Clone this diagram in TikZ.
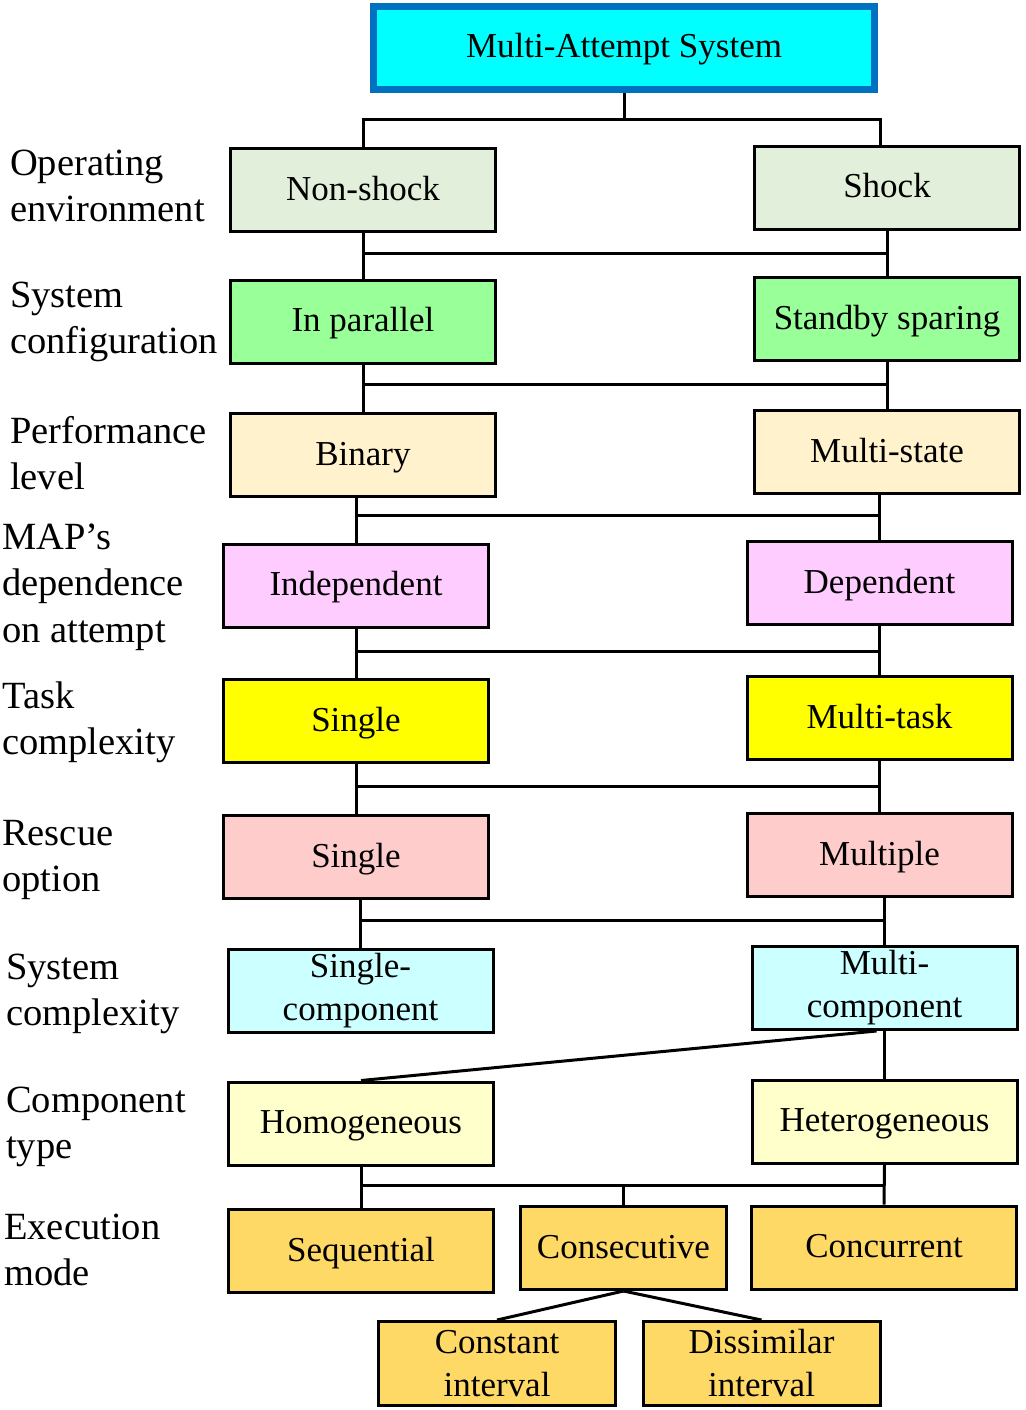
\documentclass[tikz,border=0pt]{standalone}
\usepackage{fontspec}
\setmainfont{Liberation Serif}
\newcommand\boxfont{\fontsize{35}{43}\selectfont}
\newcommand\labfont{\fontsize{38.5}{46.5}\selectfont}
\definecolor{topfill}{RGB}{0,255,255}
\definecolor{topdraw}{RGB}{0,112,192}
\definecolor{cenv}{RGB}{226,239,218}
\definecolor{ccfg}{RGB}{153,255,153}
\definecolor{cperf}{RGB}{255,242,204}
\definecolor{cdep}{RGB}{255,204,255}
\definecolor{ctask}{RGB}{255,255,0}
\definecolor{cresc}{RGB}{255,204,204}
\definecolor{csys}{RGB}{204,255,255}
\definecolor{ccomp}{RGB}{255,255,204}
\definecolor{cexec}{RGB}{255,217,102}
\begin{document}
\begin{tikzpicture}[x=1pt,y=-1pt,
  box/.style={draw=black, line width=3pt, minimum width=265pt, minimum height=83pt,
    inner sep=0pt, font=\boxfont, text height=24pt, text depth=4pt},
  boxtwo/.style={draw=black, line width=3pt, minimum width=265pt, minimum height=83pt,
    inner sep=0pt, font=\boxfont, align=center},
  lab/.style={anchor=base west, inner sep=0pt, font=\labfont},
  wire/.style={line width=3pt}]
\useasboundingbox (0,0) rectangle (1025,1410);

% top
\node[draw=topdraw, fill=topfill, line width=7pt, minimum width=501pt, minimum height=83pt,
  inner sep=0pt, font=\boxfont, text height=24pt, text depth=4pt] (top) at (624,48) {Multi-Attempt System};

% boxes
\node[box, fill=cenv] (ns) at (363,190) {Non-shock};
\node[box, fill=cenv] (sh) at (887,187.5) {Shock};
\node[box, fill=ccfg] (ip) at (363,321.5) {In parallel};
\node[box, fill=ccfg] (sb) at (887,319) {Standby sparing};
\node[box, fill=cperf] (bi) at (363,455) {Binary};
\node[box, fill=cperf] (ms) at (887,452) {Multi-state};
\node[box, fill=cdep] (ind) at (356,585.5) {Independent};
\node[box, fill=cdep] (dep) at (879.5,583) {Dependent};
\node[box, fill=ctask] (ts) at (356,721) {Single};
\node[box, fill=ctask] (mt) at (879.5,718) {Multi-task};
\node[box, fill=cresc] (rs) at (356,857) {Single};
\node[box, fill=cresc] (mu) at (879.5,855) {Multiple};
\node[boxtwo, fill=csys] (sc) at (360.5,990.5) {Single-\\component};
\node[boxtwo, fill=csys] (mc) at (884.5,988) {Multi-\\component};
\node[box, fill=ccomp] (hom) at (361,1123.5) {Homogeneous};
\node[box, fill=ccomp] (het) at (884.5,1121.5) {Heterogeneous};
\node[box, fill=cexec] (seq) at (361,1251) {Sequential};
\node[box, fill=cexec, minimum width=206pt] (con) at (623.5,1248) {Consecutive};
\node[box, fill=cexec] (cc) at (884,1247.5) {Concurrent};
\node[boxtwo, fill=cexec, minimum width=237pt, minimum height=84pt] (ci) at (497,1363.5) {Constant\\interval};
\node[boxtwo, fill=cexec, minimum width=237pt, minimum height=84pt] (di) at (761.5,1363.5) {Dissimilar\\interval};

% side labels
\node[lab] (l1) at (10,175) {\begin{tabular}[t]{@{}l@{}}Operating\\environment\end{tabular}};
\node[lab] (l2) at (10,307) {\begin{tabular}[t]{@{}l@{}}System\\configuration\end{tabular}};
\node[lab] (l3) at (10,443) {\begin{tabular}[t]{@{}l@{}}Performance\\level\end{tabular}};
\node[lab] (l4) at (2,549) {\begin{tabular}[t]{@{}l@{}}MAP’s\\dependence\\on attempt\end{tabular}};
\node[lab] (l5) at (2,708) {\begin{tabular}[t]{@{}l@{}}Task\\complexity\end{tabular}};
\node[lab] (l6) at (2,845) {\begin{tabular}[t]{@{}l@{}}Rescue\\option\end{tabular}};
\node[lab] (l7) at (6,979) {\begin{tabular}[t]{@{}l@{}}System\\complexity\end{tabular}};
\node[lab] (l8) at (6,1112) {\begin{tabular}[t]{@{}l@{}}Component\\type\end{tabular}};
\node[lab] (l9) at (4,1239) {\begin{tabular}[t]{@{}l@{}}Execution\\mode\end{tabular}};

% bus coordinates
\coordinate (b0) at (0,120);
\coordinate (b1) at (0,253);
\coordinate (b2) at (0,384);
\coordinate (b3) at (0,515);
\coordinate (b4) at (0,651);
\coordinate (b5) at (0,786);
\coordinate (b6) at (0,920);
\coordinate (b8) at (0,1185);
\coordinate (shin) at ([xshift=-7pt]sh.north);
\coordinate (mcl) at ([xshift=-8pt]mc.south);

% connectors
\draw[wire] (top.south) -- (top.south |- b0);
\draw[wire] (ns.north) |- (shin |- b0) -- (shin);

\draw[wire] (ns.south) -- (ip.north);
\draw[wire] (sh.south) -- (sb.north);
\draw[wire] (ns.south |- b1) -- (sh.south |- b1);

\draw[wire] (ip.south) -- (bi.north);
\draw[wire] (sb.south) -- (ms.north);
\draw[wire] (ip.south |- b2) -- (sb.south |- b2);

\draw[wire] (ind.north |- bi.south) -- (ind.north);
\draw[wire] (dep.north |- ms.south) -- (dep.north);
\draw[wire] (ind.north |- b3) -- (dep.north |- b3);

\draw[wire] (ind.south) -- (ts.north);
\draw[wire] (dep.south) -- (mt.north);
\draw[wire] (ind.south |- b4) -- (dep.south |- b4);

\draw[wire] (ts.south) -- (rs.north);
\draw[wire] (mt.south) -- (mu.north);
\draw[wire] (ts.south |- b5) -- (mt.south |- b5);

\draw[wire] (sc.north |- rs.south) -- (sc.north);
\draw[wire] (mc.north |- mu.south) -- (mc.north);
\draw[wire] (sc.north |- b6) -- (mc.north |- b6);

\draw[wire] (mc.south) -- (het.north);
\draw[wire] (mcl) -- (hom.north);

\draw[wire] (hom.south) -- (seq.north);
\draw[wire] (het.south) -- (cc.north);
\draw[wire] (con.north) -- (con.north |- b8);
\draw[wire] (hom.south |- b8) -- (het.south |- b8);

\draw[wire] (con.south) -- (ci.north);
\draw[wire] (con.south) -- (di.north);
\end{tikzpicture}
\end{document}
